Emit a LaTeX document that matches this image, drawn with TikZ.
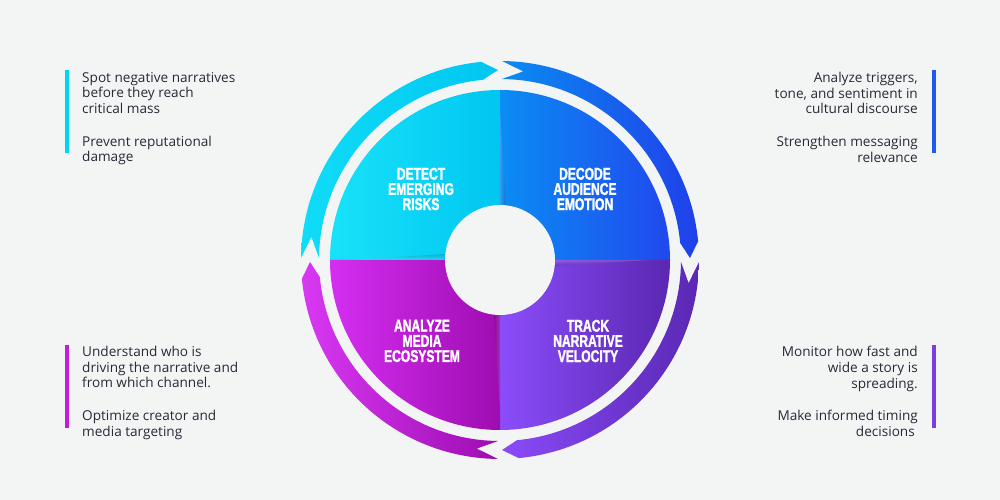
\documentclass[tikz,border=0pt]{standalone}
\usepackage{fontspec}
\setmainfont{Open Sans}
\newfontfamily\quadfont{Liberation Sans}[FakeStretch=0.71, UprightFont=* Bold, FakeBold=1.6]
\usetikzlibrary{calc}
\definecolor{bg}{HTML}{F3F5F5}
\definecolor{txt}{HTML}{262A36}
\definecolor{qTLa}{HTML}{18E2F9}\definecolor{qTLb}{HTML}{00C6F1}
\definecolor{qTRa}{HTML}{0A8DF3}\definecolor{qTRb}{HTML}{2148EE}
\definecolor{qBRa}{HTML}{8B4DFA}\definecolor{qBRb}{HTML}{5A27B2}
\definecolor{qBLa}{HTML}{D52EF2}\definecolor{qBLb}{HTML}{9E0DB0}
\definecolor{rCa}{HTML}{10DCF8}\definecolor{rCb}{HTML}{00C6F0}
\definecolor{rBa}{HTML}{0A8CF2}\definecolor{rBb}{HTML}{2040EA}
\definecolor{rVa}{HTML}{8A4BF8}\definecolor{rVb}{HTML}{5A28B4}
\definecolor{rMa}{HTML}{D838F2}\definecolor{rMb}{HTML}{9E0CB2}
\definecolor{barC}{HTML}{00D4F5}
\definecolor{barB}{HTML}{1F5AF0}
\definecolor{barM}{HTML}{C31ED6}
\definecolor{barV}{HTML}{7A3DE0}
\tikzset{
  quadlabel/.style={text=white, align=center, inner sep=0pt,
    font=\quadfont\fontsize{17}{15.2}\selectfont},
  bodyleft/.style={text=txt, align=left, inner sep=0pt, anchor=north west,
    font=\fontsize{13.6}{15.7}\selectfont},
  bodyright/.style={text=txt, align=right, inner sep=0pt, anchor=north east,
    font=\fontsize{13.6}{15.7}\selectfont},
}
% arrow band: #1 start angle
\newcommand{\ringarrow}[3]{%
  \shade[left color=#2, right color=#3]
    (#1-0.6:199) arc[start angle=#1-0.6, end angle=#1-84.6, radius=199]
    -- (#1-89.4:190) -- (#1-84.6:181)
    arc[start angle=#1-84.6, end angle=#1-0.6, radius=181]
    -- (#1-7:190) -- cycle;}
\begin{document}
\begin{tikzpicture}[x=1pt,y=1pt]
\fill[bg] (0,0) rectangle (1000,500);
\useasboundingbox (0,0) rectangle (1000,500);
\begin{scope}[shift={(500,240)}]
  % quadrants
  \shade[left color=qTLa, right color=qTLb] (0,0) -- (180:170) arc[start angle=180, end angle=90, radius=170] -- cycle;
  \shade[left color=qTRa, right color=qTRb] (0,0) -- (90:170) arc[start angle=90, end angle=0, radius=170] -- cycle;
  \shade[left color=qBRa, right color=qBRb] (0,0) -- (0:170) arc[start angle=0, end angle=-90, radius=170] -- cycle;
  \shade[left color=qBLa, right color=qBLb] (0,0) -- (-90:170) arc[start angle=-90, end angle=-180, radius=170] -- cycle;
  % fold shadows
  \shade[left color=black!0, right color=black, opacity=0.15] (0,55) -- (0,150) -- (6,55) -- cycle;
  \shade[top color=black, bottom color=black!0, opacity=0.15] (-55,0) -- (-150,0) -- (-55,6) -- cycle;
  \shade[right color=black!0, left color=black, opacity=0.15] (0,-55) -- (0,-150) -- (-6,-55) -- cycle;
  \shade[bottom color=black, top color=black!0, opacity=0.15] (55,0) -- (150,0) -- (55,-6) -- cycle;
  % hole
  \fill[bg] (0,0) circle[radius=55];
  % ring arrows
  \ringarrow{180}{rCa}{rCb}
  \ringarrow{90}{rBa}{rBb}
  \ringarrow{0}{rVa}{rVb}
  \ringarrow{-90}{rMa}{rMb}
\end{scope}
% quadrant labels
\node[quadlabel] (detect) at (421,311) {DETECT\\EMERGING\\RISKS};
\node[quadlabel] (decode) at (585,311) {DECODE\\AUDIENCE\\EMOTION};
\node[quadlabel] (analyze) at (422,159) {ANALYZE\\MEDIA\\ECOSYSTEM};
\node[quadlabel] (track) at (588,159) {TRACK\\NARRATIVE\\VELOCITY};
% side bars
\fill[barC] (64.5,430) rectangle (68.5,347);
\fill[barB] (932,430) rectangle (936,347);
\fill[barM] (64.5,155) rectangle (68.5,72);
\fill[barV] (932,155) rectangle (936,72);
% side texts
\node[bodyleft] (tl) at (82,428) {Spot negative narratives\\before they reach\\critical mass\\[17pt]Prevent reputational\\damage};
\node[bodyright] (tr) at (918,428) {Analyze triggers,\\tone, and sentiment in\\cultural discourse\\[17pt]Strengthen messaging\hspace*{3pt}\\relevance};
\node[bodyleft] (bl) at (82,154) {Understand who is\\driving the narrative and\\from which channel.\\[17pt]Optimize creator and\\media targeting};
\node[bodyright] (br) at (918,154) {Monitor how fast and\\wide a story is\\spreading.\hspace*{3pt}\\[17pt]Make informed timing\\decisions\hspace*{3pt}};
\end{tikzpicture}
\end{document}
